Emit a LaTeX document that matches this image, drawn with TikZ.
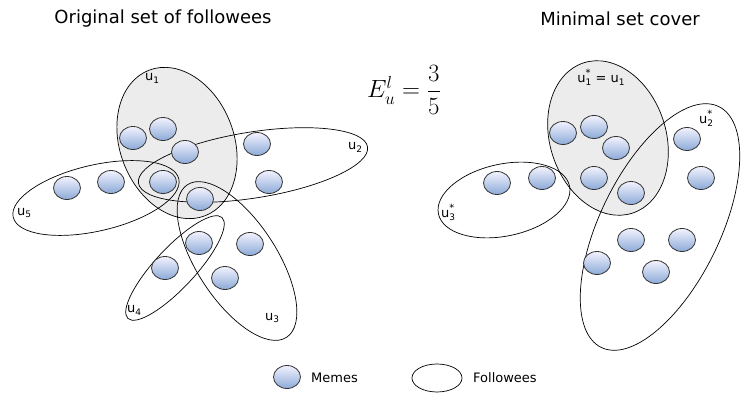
\documentclass[tikz,border=0pt]{standalone}
\usepackage{amsmath}
\usepackage{fontspec}
\setmainfont{DejaVu Sans}
\usetikzlibrary{shapes.geometric}
\newcommand{\usub}[1]{u\raisebox{-0.4ex}{\fontsize{9}{9}\selectfont #1}}
\newcommand{\ustar}[1]{u\raisebox{-0.4ex}{\rlap{\raisebox{1.3ex}{\fontsize{10}{10}\selectfont *}}\fontsize{9}{9}\selectfont #1}}
\begin{document}
\begin{tikzpicture}[x=1pt,y=-1pt,
  meme/.style={ellipse,draw=black!80,line width=0.8pt,minimum width=27pt,minimum height=23pt,inner sep=0pt,top color=white!60!blue!12,bottom color={rgb,255:red,140;green,170;blue,215}},
  fol/.style={ellipse,draw,line width=0.7pt,inner sep=0pt},
  lab/.style={font=\fontsize{13}{14}\selectfont,inner sep=0pt},
  ttl/.style={font=\fontsize{18}{20}\selectfont,inner sep=0pt}]
\useasboundingbox (0,0) rectangle (756,401);
\node[ttl] (t1) at (163,19) {Original set of followees};
\node[ttl] (t2) at (620,19) {Minimal set cover};
\node[font=\fontsize{26}{28}\selectfont,inner sep=0pt] (f) at (404,90) {$E_u^l = \dfrac{3}{5}$};
% left
\node[fol,fill=gray!15,minimum width=114pt,minimum height=156pt,rotate=21] (u1) at (177,143) {};
\node[fol,minimum width=232pt,minimum height=66pt,rotate=9] (u2) at (253,165) {};
\node[fol,minimum width=170pt,minimum height=66pt,rotate=13] (u5) at (96,198) {};
\node[fol,minimum width=80pt,minimum height=182pt,rotate=33] (u3) at (237,261) {};
\node[fol,minimum width=40pt,minimum height=138pt,rotate=-43] (u4) at (175,268) {};
\foreach \p [count=\i] in {(133,138),(163,129),(185,152),(163,182),(200,199),(257,144),(269,182),(67,188),(111,182),(199,243),(250,244),(165,268),(225,278)}
  \node[meme] (a\i) at \p {};
\node[lab] (l1) at (152,78) {\usub{1}};
\node[lab] (l2) at (355,147) {\usub{2}};
\node[lab] (l5) at (24,213) {\usub{5}};
\node[lab] (l4) at (134,310) {\usub{4}};
\node[lab] (l3) at (272,318) {\usub{3}};
% right
\node[fol,fill=gray!15,minimum width=116pt,minimum height=158pt,rotate=18] (v1) at (608,138) {};
\node[fol,minimum width=120pt,minimum height=268pt,rotate=-26] (v2) at (660,227) {};
\node[fol,minimum width=134pt,minimum height=72pt,rotate=12] (v3) at (504,200) {};
\foreach \p [count=\i] in {(563,133),(594,127),(616,148),(594,178),(631,193),(687,139),(701,178),(497,183),(542,178),(631,240),(682,240),(597,263),(656,272)}
  \node[meme] (b\i) at \p {};
\node[lab] (m1) at (601,77) {\ustar{1} = \usub{1}};
\node[lab] (m2) at (706,118) {\ustar{2}};
\node[lab] (m3) at (448,212) {\ustar{3}};
% legend
\node[meme] (lm) at (287,377) {};
\node[lab,anchor=west] (lmt) at (311,378) {Memes};
\node[fol,minimum width=50pt,minimum height=28pt] (lf) at (437,378) {};
\node[lab,anchor=west] (lft) at (473,378) {Followees};
\end{tikzpicture}
\end{document}
